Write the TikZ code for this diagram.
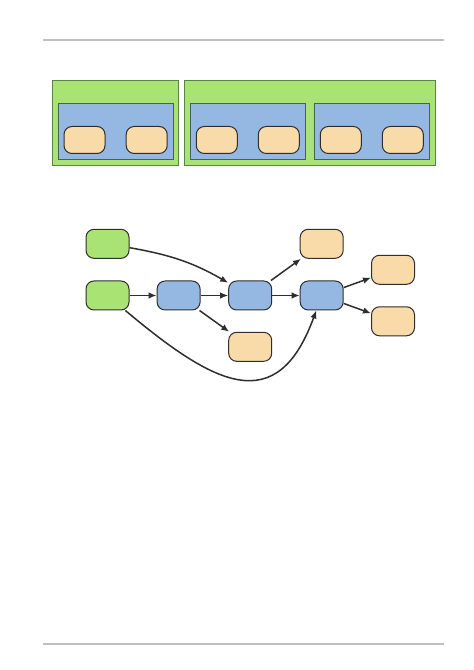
\documentclass[tikz,border=0pt]{standalone}
\usepackage{tikz}
\usetikzlibrary{fit,positioning}
\usetikzlibrary{arrows.meta}

\definecolor{leafgreen}{HTML}{A8E373}
\definecolor{poolblue}{HTML}{94B8E2}
\definecolor{taskorange}{HTML}{F9DAA9}
\definecolor{greenline}{HTML}{5A8444}
\definecolor{poolline}{HTML}{46605A}
\definecolor{ink}{HTML}{2E2E2E}

\tikzset{
	rulerline/.style={line width=1.5pt, draw=black!25},
	group/.style={rectangle, draw=greenline, line width=0.9pt, fill=leafgreen, inner sep=0pt, minimum height=85pt},
	pool/.style={rectangle, draw=poolline, line width=0.9pt, fill=poolblue, inner sep=0pt, minimum width=115pt, minimum height=56pt},
	box/.style={rectangle, draw=ink, line width=1pt, inner sep=0pt, minimum width=43pt, minimum height=29pt, rounded corners=8pt},
	slot/.style={box, fill=taskorange, minimum width=41pt, minimum height=27pt},
	src/.style={box, fill=leafgreen},
	stage/.style={box, fill=poolblue},
	sink/.style={box, fill=taskorange},
	flow/.style={draw=ink, line width=1.5pt, -{Latex[length=8pt, width=6.5pt]}}
}

\begin{document}
\begin{tikzpicture}[x=1pt,y=1pt]
	\useasboundingbox (0,0) rectangle (474,670);
	
	\draw[rulerline] (43,630) -- (444,630);
	\draw[rulerline] (43,26) -- (444,26);
	
	% top: groups with pools
	\node[group, minimum width=126.4pt] (grp1) at (115.5,547.5) {};
	\node[group, minimum width=251pt] (grp2) at (310.2,547.5) {};
	
	\node[pool] (pool1) at (115.8,538.7) {};
	\node[pool, right of=pool1, node distance=132.2pt] (pool2) {};
	\node[pool, right of=pool2, node distance=124pt] (pool3) {};
	
	\node[slot] (t1) at (84.5,530) {};
	\node[slot, right of=t1, node distance=62.2pt] (t2) {};
	\node[slot] (t3) at (216.8,530) {};
	\node[slot, right of=t3, node distance=62pt] (t4) {};
	\node[slot] (t5) at (340.8,530) {};
	\node[slot, right of=t5, node distance=62pt] (t6) {};
	
	% bottom: flow graph
	\node[src] (in2) at (107.5,374.5) {};
	\node[src, above of=in2, node distance=51.7pt] (in1) {};
	
	\node[stage, right of=in2, node distance=71.1pt] (st1) {};
	\node[stage, right of=st1, node distance=71.6pt] (st2) {};
	\node[stage, right of=st2, node distance=71.5pt] (st3) {};
	
	\node[sink, above of=st3, node distance=51.7pt] (out1) {};
	\node[sink, below of=st2, node distance=51.3pt] (out2) {};
	\node[sink, right of=st3, node distance=71.3pt, yshift=25.7pt] (out3) {};
	\node[sink, right of=st3, node distance=71.3pt, yshift=-25.8pt] (out4) {};
	
	\path[flow] (in2) -- (st1);
	\path[flow] (st1) -- (st2);
	\path[flow] (st2) -- (st3);
	\path[flow] (st1) -- (out2);
	\path[flow] (st2) -- (out1);
	\path[flow] (st3) -- (out3);
	\path[flow] (st3) -- (out4);
	\path[flow] (in1) to[out=-10, in=150] (st2);
	\path[flow] (in2) to[out=-40, in=-110, looseness=1.55] (st3);
\end{tikzpicture}
\end{document}
